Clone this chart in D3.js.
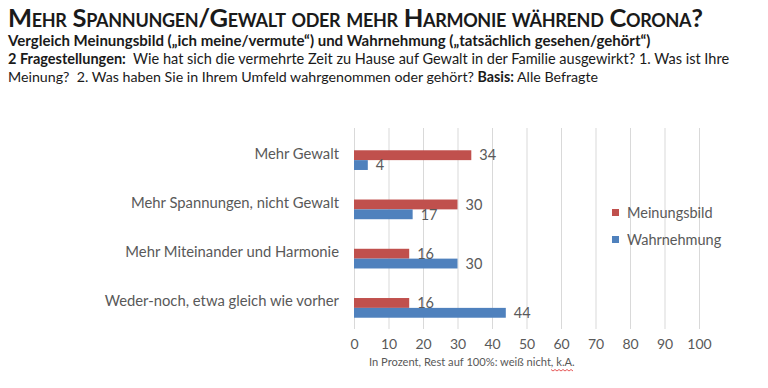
<!DOCTYPE html>
<html><head><meta charset="utf-8">
<script src="https://cdn.jsdelivr.net/npm/d3@7"></script>
<style>
body{margin:0;background:#fff;}
svg{display:block;font-family:Lato,"Open Sans",sans-serif;}
</style></head>
<body><svg id="c" width="768" height="388"></svg>
<script>
const categories = ["Mehr Gewalt","Mehr Spannungen, nicht Gewalt","Mehr Miteinander und Harmonie","Weder-noch, etwa gleich wie vorher"];
const meinungsbild = [34,30,16,16];
const wahrnehmung = [4,17,30,44];
const seriesNames = ["Meinungsbild","Wahrnehmung"];
const seriesColors = ["#C0504D","#4F81BD"];
const xTicks = [0,10,20,30,40,50,60,70,80,90,100];

const svg = d3.select("#c");
const grey = "#595959";

// scale a text's font size so that its natural width matches a target width
function fitWidth(sel, target){
  const w = sel.node().getComputedTextLength();
  const fs = parseFloat(sel.attr("font-size"));
  sel.attr("font-size", (fs*target/w).toFixed(2));
}
// widen a text through letter spacing to a target width
function spreadWidth(sel, target){
  const w = sel.node().getComputedTextLength();
  const n = sel.text().length;
  sel.attr("letter-spacing", ((target-w)/(n-1)).toFixed(3));
}

// Title block
const t = svg.append("text").attr("x",8).attr("y",27).attr("fill","#1a1a1a")
  .attr("font-weight","bold").attr("font-size",25.5).style("font-variant","small-caps")
  .text("Mehr Spannungen/Gewalt oder mehr Harmonie während Corona?");
spreadWidth(t,695);
const l2 = svg.append("text").attr("x",8).attr("y",46).attr("font-size",13.5).attr("font-weight","bold").attr("fill","#1a1a1a")
  .text("Vergleich Meinungsbild („ich meine/vermute“) und Wahrnehmung („tatsächlich gesehen/gehört“)");
fitWidth(l2,643);
const l3 = svg.append("text").attr("x",8).attr("y",64).attr("font-size",13.5).attr("fill","#1a1a1a");
l3.append("tspan").attr("font-weight","bold").text("2 Fragestellungen:");
l3.append("tspan").text("\u00a0 Wie hat sich die vermehrte Zeit zu Hause auf Gewalt in der Familie ausgewirkt? 1. Was ist Ihre");
fitWidth(l3,722);
const l4 = svg.append("text").attr("x",8).attr("y",82).attr("font-size",13.5).attr("fill","#1a1a1a");
l4.append("tspan").text("Meinung?\u00a0 2. Was haben Sie in Ihrem Umfeld wahrgenommen oder gehört? ");
l4.append("tspan").attr("font-weight","bold").text("Basis:");
l4.append("tspan").text(" Alle Befragte");
fitWidth(l4,590);

// Scales
const x = d3.scaleLinear().domain([0,100]).range([354,699]);
const y = d3.scaleBand().domain(categories).range([135.5,332.5]).paddingInner(0.6).paddingOuter(0.3);
const ySub = d3.scaleBand().domain(seriesNames).range([0,y.bandwidth()]);

// gridlines
svg.append("g").selectAll("line").data(xTicks).join("line")
  .attr("x1",d=>x(d)+0.5).attr("x2",d=>x(d)+0.5).attr("y1",128).attr("y2",329)
  .attr("stroke","#D9D9D9").attr("stroke-width",1);

// x axis labels
const xAxis = d3.axisBottom(x).tickValues(xTicks).tickSize(0).tickPadding(0);
const gx = svg.append("g").attr("transform","translate(0,339)").call(xAxis);
gx.select(".domain").remove();
gx.selectAll("text").attr("font-size",14).attr("fill",grey).attr("font-family","Lato,sans-serif");

// category labels
const yAxis = d3.axisLeft(y).tickSize(0).tickPadding(0);
const gy = svg.append("g").attr("transform","translate(339,0)").call(yAxis);
gy.select(".domain").remove();
gy.selectAll("text").attr("font-size",14.8).attr("fill",grey).attr("font-family","Lato,sans-serif").attr("dy","-0.1em");

// bars
const data = categories.map((c,i)=>({cat:c, vals:[meinungsbild[i], wahrnehmung[i]]}));
const groups = svg.append("g").selectAll("g").data(data).join("g")
  .attr("transform",d=>`translate(0,${y(d.cat)})`);
groups.selectAll("rect").data(d=>d.vals.map((v,j)=>({v,s:seriesNames[j],j}))).join("rect")
  .attr("x",x(0)).attr("y",d=>ySub(d.s)).attr("width",d=>x(d.v)-x(0)).attr("height",ySub.bandwidth())
  .attr("fill",d=>seriesColors[d.j]);
groups.selectAll("text").data(d=>d.vals.map((v,j)=>({v,s:seriesNames[j],j}))).join("text")
  .attr("x",d=>x(d.v)+8).attr("y",d=>ySub(d.s)+ySub.bandwidth()/2).attr("dy","0.36em")
  .attr("font-size",14.5).attr("fill",grey).text(d=>d.v);

// legend
const lg = svg.append("g").selectAll("g").data(seriesNames).join("g")
  .attr("transform",(d,i)=>`translate(612,${209+i*27})`);
lg.append("rect").attr("width",7).attr("height",7).attr("fill",(d,i)=>seriesColors[i]);
lg.append("text").attr("x",15).attr("y",4).attr("dy","0.36em").attr("font-size",14.5).attr("fill",grey).text(d=>d);

// footnote
const fn = svg.append("text").attr("x",369).attr("y",366).attr("font-size",10).attr("fill",grey)
  .text("In Prozent, Rest auf 100%: weiß nicht, k.A.");
fitWidth(fn,206);
// spell-check wavy underline
svg.append("path").attr("d",d3.range(0,22,2).reduce((s,k)=>s+` L${553+k},${k%4?369.5:371}`,"M551,369.5"))
  .attr("fill","none").attr("stroke","#e03030").attr("stroke-width",0.8);
</script></body></html>
